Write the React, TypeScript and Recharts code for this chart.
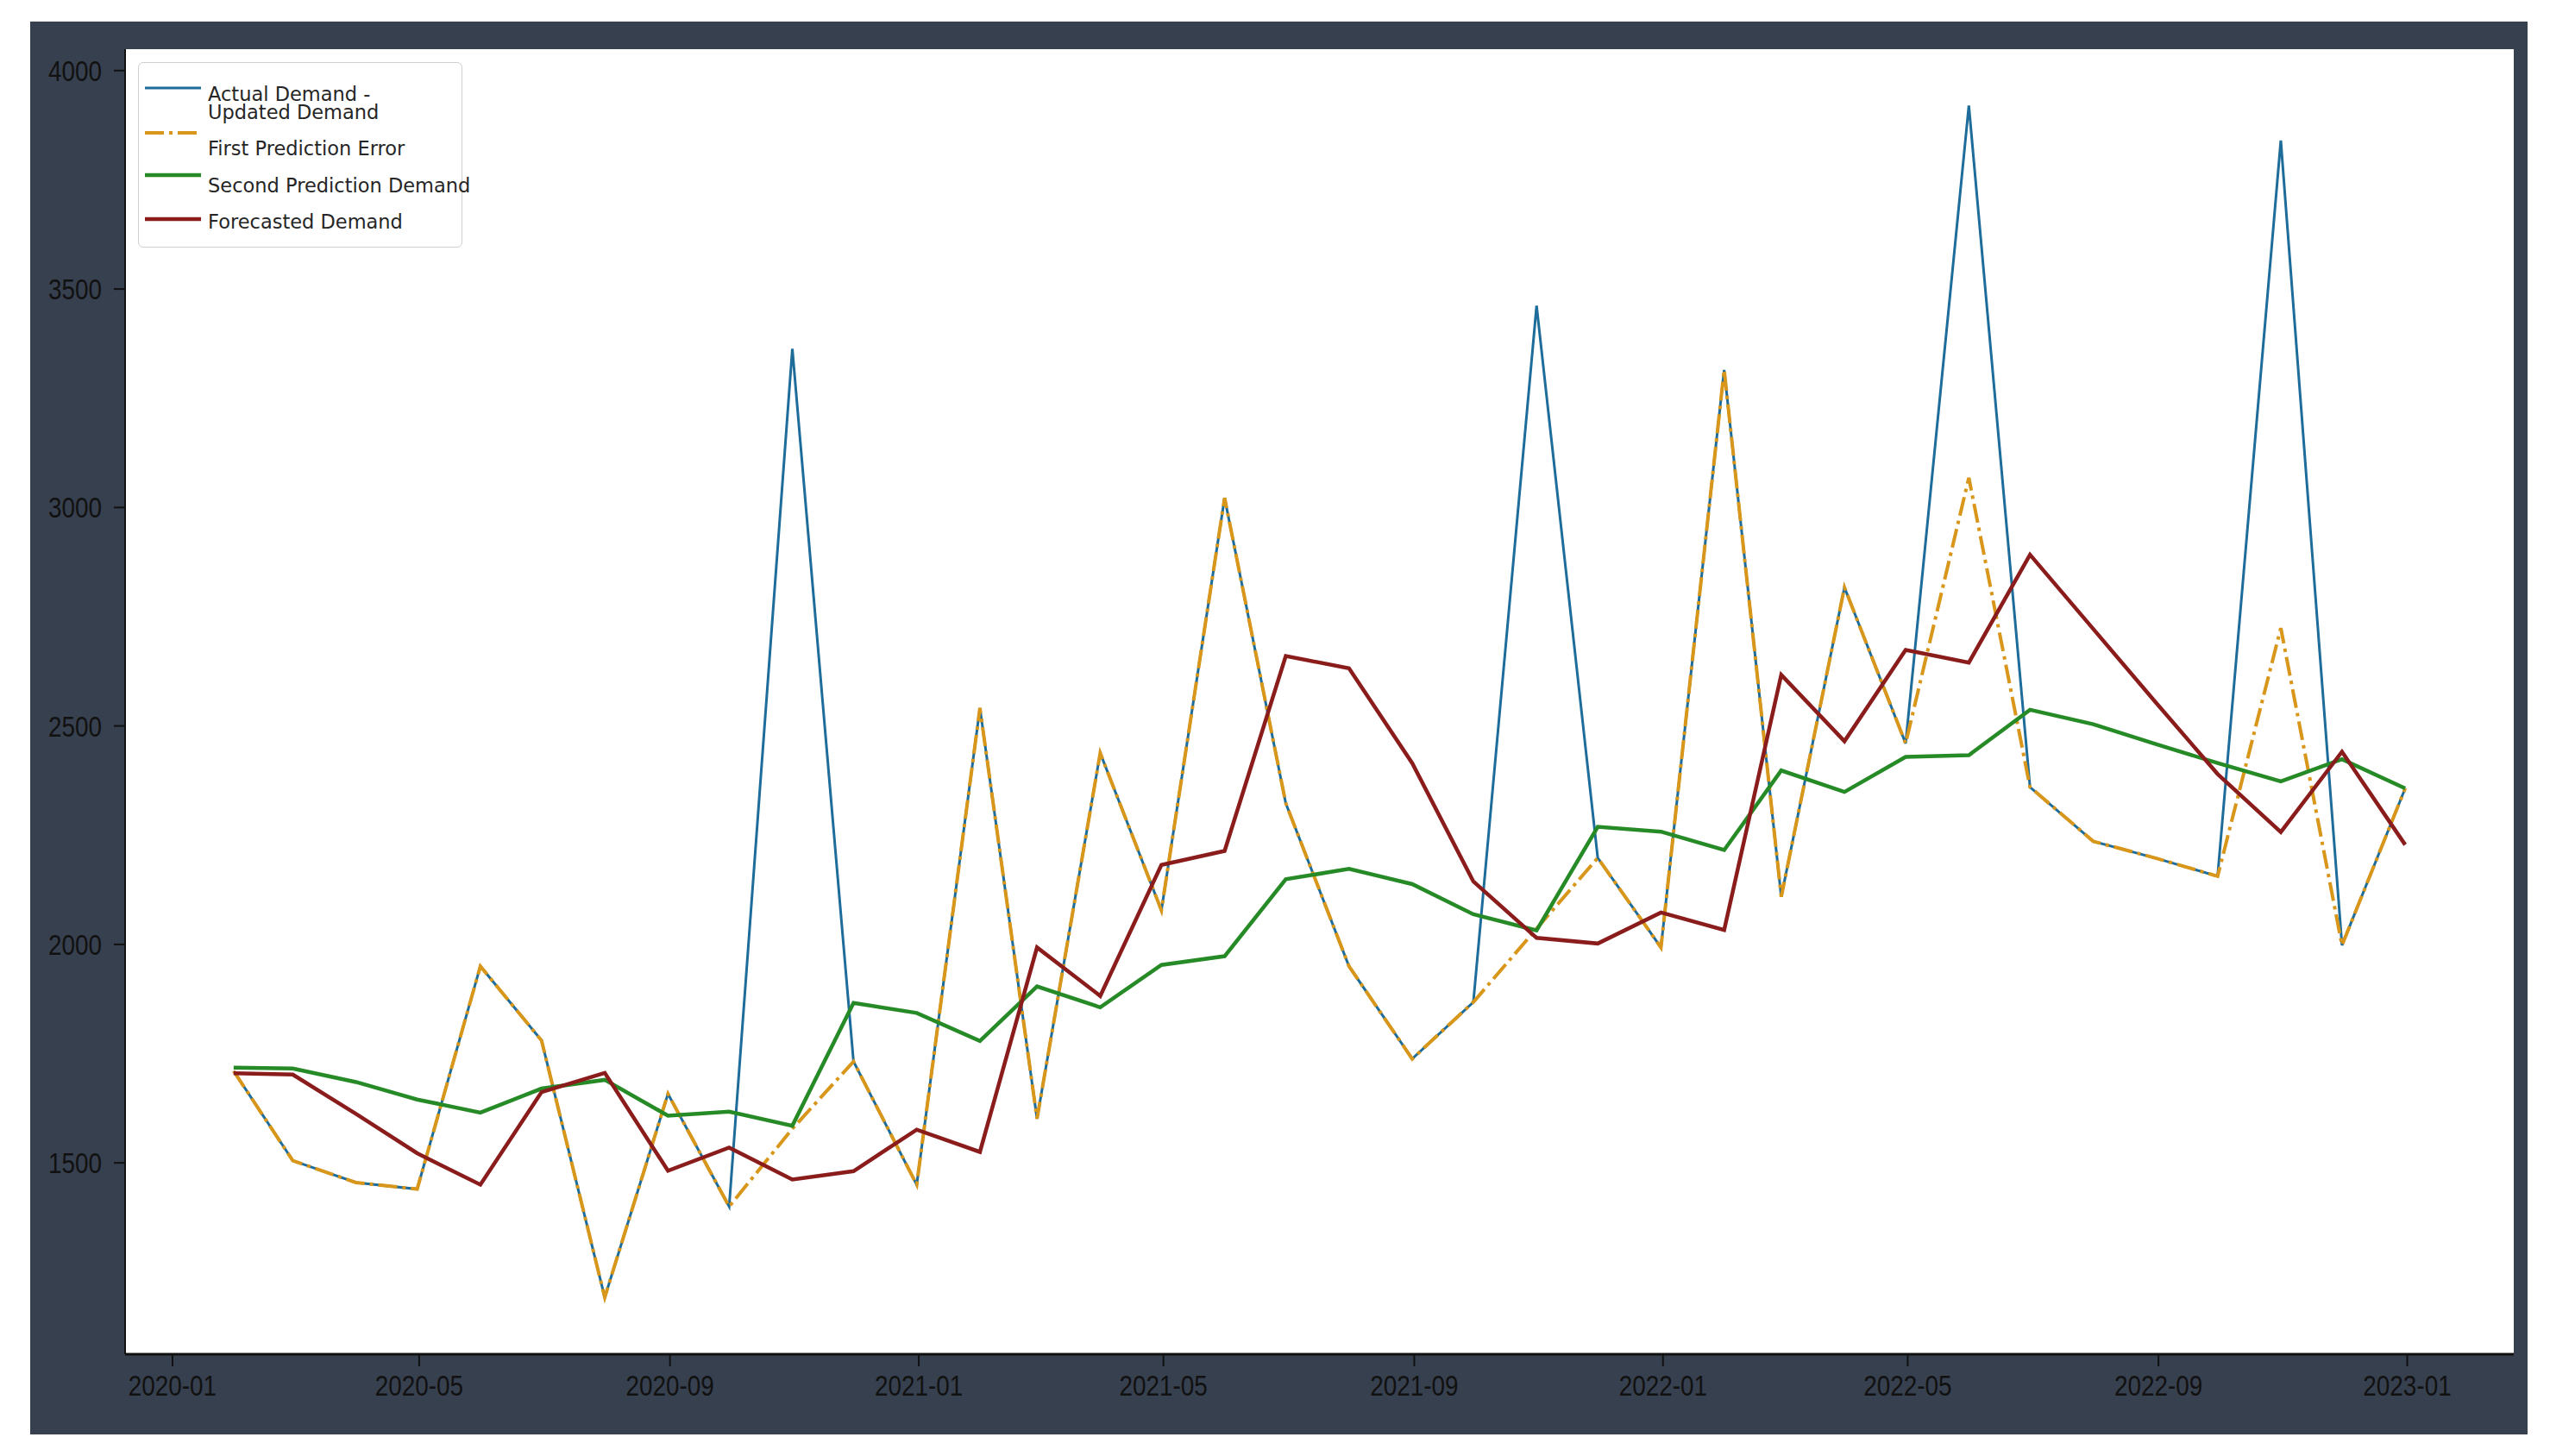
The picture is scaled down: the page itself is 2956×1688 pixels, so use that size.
import React from 'react';
import { LineChart, Line, XAxis, YAxis, CartesianGrid, Legend } from 'recharts';

// Monthly dates (month ends)
const dates: string[] = [
  '2020-01-31', '2020-02-29', '2020-03-31', '2020-04-30', '2020-05-31', '2020-06-30',
  '2020-07-31', '2020-08-31', '2020-09-30', '2020-10-31', '2020-11-30', '2020-12-31',
  '2021-01-31', '2021-02-28', '2021-03-31', '2021-04-30', '2021-05-31', '2021-06-30',
  '2021-07-31', '2021-08-31', '2021-09-30', '2021-10-31', '2021-11-30', '2021-12-31',
  '2022-01-31', '2022-02-28', '2022-03-31', '2022-04-30', '2022-05-31', '2022-06-30',
  '2022-07-31', '2022-08-31', '2022-09-30', '2022-10-31', '2022-11-30', '2022-12-31',
];

const actualDemand: number[] = [
  1710, 1505, 1455, 1440, 1950, 1780, 1192, 1658, 1400, 3363, 1732, 1450,
  2541, 1601, 2438, 2078, 3022, 2323, 1950, 1738, 1868, 3462, 2198, 1993,
  3315, 2109, 2817, 2460, 3920, 2360, 2236, 2197, 2156, 3840, 1998, 2357,
];

const firstPrediction: number[] = [
  1710, 1505, 1455, 1440, 1950, 1780, 1192, 1658, 1400, 1578, 1732, 1450,
  2541, 1601, 2438, 2078, 3022, 2323, 1950, 1738, 1868, 2036, 2198, 1993,
  3315, 2109, 2817, 2460, 3068, 2360, 2236, 2197, 2156, 2724, 1998, 2357,
];

const secondPrediction: number[] = [
  1718, 1716, 1685, 1645, 1615, 1670, 1690, 1608, 1617, 1585, 1866, 1843,
  1779, 1904, 1856, 1953, 1973, 2149, 2173, 2138, 2069, 2032, 2269, 2258,
  2216, 2398, 2349, 2429, 2433, 2537, 2504, 2458, 2415, 2373, 2424, 2357,
];

const forecasted: number[] = [
  1705, 1702, 1612, 1522, 1450, 1662, 1706, 1482, 1535, 1462, 1481, 1576,
  1525, 1993, 1882, 2182, 2214, 2660, 2632, 2415, 2144, 2015, 2002, 2073,
  2033, 2617, 2465, 2674, 2645, 2892, 2722, 2552, 2390, 2257, 2441, 2228,
];

const xTickLabels: string[] = [
  '2020-01', '2020-05', '2020-09', '2021-01', '2021-05', '2021-09',
  '2022-01', '2022-05', '2022-09', '2023-01',
];
const yTicks: number[] = [1500, 2000, 2500, 3000, 3500, 4000];

const seriesNames = {
  actual: 'Actual Demand - Updated Demand',
  first: 'First Prediction Error',
  second: 'Second Prediction Demand',
  forecast: 'Forecasted Demand',
};

const COLORS = {
  actual: '#1d6c9a',
  first: '#d8961a',
  second: '#268a26',
  forecast: '#8a1c1c',
};

const toTs = (s: string) => Date.parse(s + 'T00:00:00Z');

const data = dates.map((d, i) => ({
  t: toTs(d),
  actual: actualDemand[i],
  first: firstPrediction[i],
  second: secondPrediction[i],
  forecast: forecasted[i],
}));

const xTicks = xTickLabels.map((l) => toTs(l + '-01'));
const fmtX = (v: number) => {
  const d = new Date(v);
  return `${d.getUTCFullYear()}-${String(d.getUTCMonth() + 1).padStart(2, '0')}`;
};

const tMin = data[0].t;
const tMax = data[data.length - 1].t;
const xPad = (tMax - tMin) * 0.05;
const yDomain: [number, number] = [1062, 4049];

const tickFont = "'Liberation Sans', Arial, sans-serif";

const CondensedTick = (props: any) => {
  const { x, y, payload, orientation, tickFormatter } = props;
  const label = tickFormatter ? tickFormatter(payload.value) : String(payload.value);
  const isX = orientation === 'bottom';
  return (
    <g transform={`translate(${x},${y}) scale(0.82,1)`}>
      <text
        x={0}
        y={0}
        dy={isX ? '0.71em' : '0.355em'}
        textAnchor={isX ? 'middle' : 'end'}
        fill="#111111"
        fontSize={34}
        fontFamily={tickFont}
      >
        {label}
      </text>
    </g>
  );
};

const legendRows = [
  { key: 'actual', lines: ['Actual Demand -', 'Updated Demand'], handleY: 29, textY: [36, 57], dash: undefined, w: 3 },
  { key: 'first', lines: ['First Prediction Error'], handleY: 81, textY: [99], dash: '22 6 4 6', w: 4 },
  { key: 'second', lines: ['Second Prediction Demand'], handleY: 130, textY: [142], dash: undefined, w: 4.5 },
  { key: 'forecast', lines: ['Forecasted Demand'], handleY: 181, textY: [184], dash: undefined, w: 4.5 },
];

const LegendBox = () => (
  <div
    style={{
      position: 'relative',
      width: 376,
      height: 215,
      background: '#ffffff',
      border: '1.5px solid #d0d0d0',
      borderRadius: 6,
      boxSizing: 'border-box',
      fontFamily: "'DejaVu Sans', sans-serif",
      fontSize: 22.5,
      color: '#262626',
    }}
  >
    {legendRows.map((r) => (
      <React.Fragment key={r.key}>
        <svg
          width={68}
          height={10}
          style={{ position: 'absolute', left: 6, top: r.handleY - 5, overflow: 'visible' }}
        >
          <line
            x1={1}
            x2={66}
            y1={5}
            y2={5}
            stroke={(COLORS as any)[r.key]}
            strokeWidth={r.w}
            strokeDasharray={r.dash}
          />
        </svg>
        {r.lines.map((txt, j) => (
          <div
            key={j}
            style={{
              position: 'absolute',
              left: 80,
              top: r.textY[j] - 13,
              height: 26,
              lineHeight: '26px',
              whiteSpace: 'nowrap',
            }}
          >
            {txt}
          </div>
        ))}
      </React.Fragment>
    ))}
  </div>
);

export default function App() {
  return (
    <div
      style={{
        position: 'absolute',
        left: 0,
        top: 0,
        width: 2956,
        height: 1688,
        background: '#ffffff',
        overflow: 'hidden',
      }}
    >
      <div
        style={{
          position: 'absolute',
          left: 35,
          top: 25,
          width: 2895,
          height: 1638,
          background: '#37404f',
        }}
      />
      <div style={{ position: 'absolute', left: 0, top: 0 }}>
        <LineChart
          width={2956}
          height={1688}
          data={data}
          margin={{ top: 57, right: 42, left: 0, bottom: 0 }}
        >
          <CartesianGrid horizontal={false} vertical={false} fill="#ffffff" />
          <XAxis
            dataKey="t"
            type="number"
            domain={[tMin - xPad, tMax + xPad]}
            ticks={xTicks}
            tickFormatter={fmtX}
            height={118}
            tickSize={14}
            tickMargin={10}
            allowDataOverflow
            stroke="#111111"
            axisLine={{ stroke: '#111111', strokeWidth: 3 }}
            tickLine={{ stroke: '#111111', strokeWidth: 2 }}
            tick={<CondensedTick tickFormatter={fmtX} />}
          />
          <XAxis
            xAxisId="top"
            orientation="top"
            dataKey="t"
            type="number"
            domain={[tMin - xPad, tMax + xPad]}
            height={0}
            tick={false}
            tickLine={false}
            axisLine={{ stroke: '#111111', strokeWidth: 3 }}
          />
          <YAxis
            type="number"
            domain={yDomain}
            ticks={yTicks}
            width={145}
            tickSize={13}
            tickMargin={14}
            allowDataOverflow
            axisLine={{ stroke: '#111111', strokeWidth: 2 }}
            tickLine={{ stroke: '#111111', strokeWidth: 2 }}
            tick={<CondensedTick />}
          />
          <YAxis
            yAxisId="right"
            orientation="right"
            type="number"
            domain={yDomain}
            width={0}
            tick={false}
            tickLine={false}
            axisLine={{ stroke: '#111111', strokeWidth: 3 }}
          />
          <Legend
            layout="vertical"
            align="center"
            verticalAlign="middle"
            content={() => <LegendBox />}
            wrapperStyle={{ position: 'absolute', left: 160, top: 72, width: 376, height: 215 }}
          />
          <Line
            type="linear"
            dataKey="actual"
            name={seriesNames.actual}
            stroke={COLORS.actual}
            strokeWidth={3}
            dot={false}
            isAnimationActive={false}
          />
          <Line
            type="linear"
            dataKey="first"
            name={seriesNames.first}
            stroke={COLORS.first}
            strokeWidth={4}
            strokeDasharray="22 6 4 6"
            dot={false}
            isAnimationActive={false}
          />
          <Line
            type="linear"
            dataKey="second"
            name={seriesNames.second}
            stroke={COLORS.second}
            strokeWidth={4.5}
            dot={false}
            isAnimationActive={false}
          />
          <Line
            type="linear"
            dataKey="forecast"
            name={seriesNames.forecast}
            stroke={COLORS.forecast}
            strokeWidth={4.5}
            dot={false}
            isAnimationActive={false}
          />
        </LineChart>
      </div>
    </div>
  );
}
